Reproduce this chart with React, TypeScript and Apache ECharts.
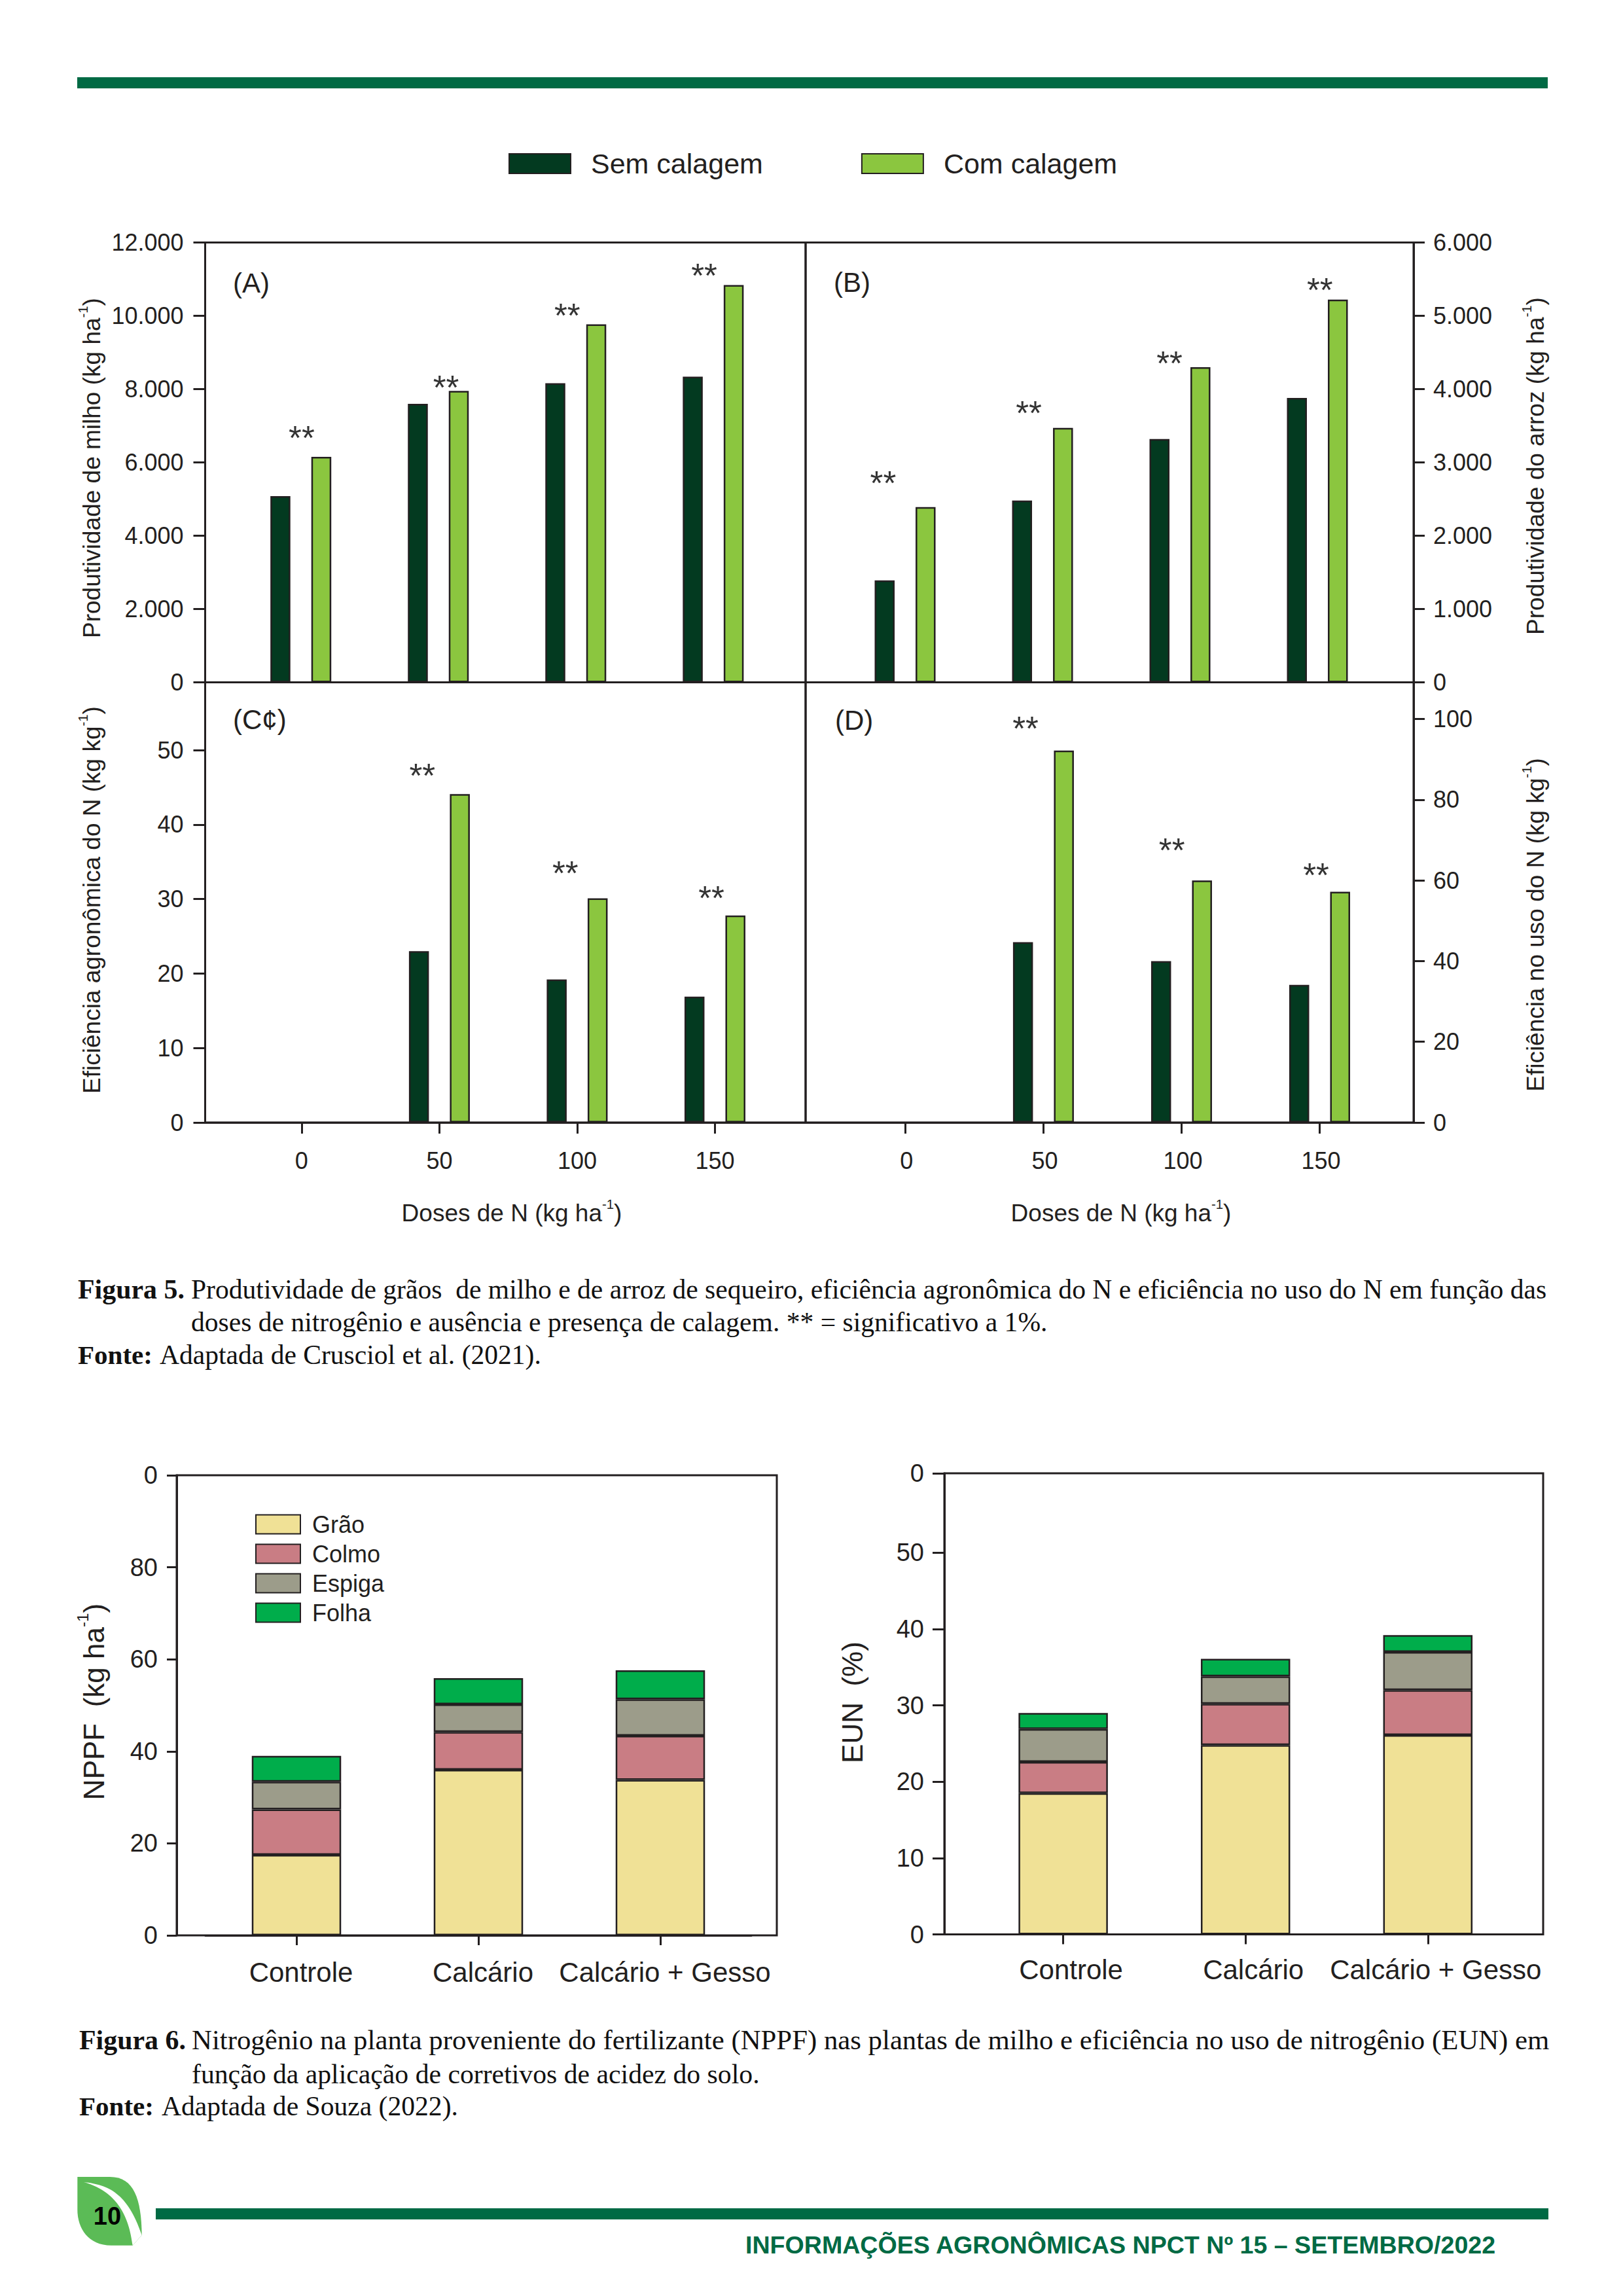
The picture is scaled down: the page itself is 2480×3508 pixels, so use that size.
import React, { useEffect, useRef } from "react";
import * as echarts from "echarts";

const doses = [0, 50, 100, 150];
const treatmentLabels = ["Controle", "Calcário", "Calcário + Gesso"];

const milhoSem = [5080, 7600, 8160, 8340];
const milhoCom = [6150, 7950, 9770, 10840];
const arrozSem = [1390, 2480, 3320, 3880];
const arrozCom = [2390, 3470, 4300, 5220];
const agroSem = [null, 23.0, 19.2, 16.9];
const agroCom = [null, 44.1, 30.1, 27.8];
const usoSem = [null, 44.7, 40.0, 34.1];
const usoCom = [null, 92.2, 60.0, 57.2];

const starsAx = [0.3, 52.8, 96.9, 146.7];
const starsAy = [6820, 8195, 10164, 11251];
const starsBx = [-8, 45, 96.2, 150.9];
const starsBy = [2795, 3754, 4431, 5431];
const starsCx = [43.8, 95.7, 148.7];
const starsCy = [47.3, 34.2, 30.9];
const starsDx = [43.5, 96.5, 148.7];
const starsDy = [99, 68.9, 62.7];

const ticksA = [0, 2000, 4000, 6000, 8000, 10000, 12000];
const ticksB = [0, 1000, 2000, 3000, 4000, 5000, 6000];
const ticksC = [0, 10, 20, 30, 40, 50];
const ticksD = [0, 20, 40, 60, 80, 100];
const ticksNppf = [0, 20, 40, 60, 80, 100];
const ticksEun = [0, 10, 20, 30, 40, 50, 60.4];

const nppfGrao = [17.5, 36.0, 33.8];
const nppfColmo = [9.9, 8.2, 9.6];
const nppfEspiga = [6.0, 6.0, 7.9];
const nppfFolha = [5.6, 5.7, 6.3];
const eunGrao = [18.5, 24.8, 26.1];
const eunColmo = [4.1, 5.4, 5.9];
const eunEspiga = [4.3, 3.6, 5.0];
const eunFolha = [2.1, 2.3, 2.2];

const INK = "#231f20";
const DARK = "#033a20";
const LIGHT = "#8bc63f";
const BRAND = "#006a44";
const SANS = "Liberation Sans";
const SERIF = "Liberation Serif";

const ctx = document.createElement("canvas").getContext("2d")!;
function fit(text: string, weight: string, family: string, width: number) {
  ctx.font = `${weight} 100px "${family}"`;
  return (100 * width) / ctx.measureText(text).width;
}

function pairs(xs: number[], ys: (number | null)[]) {
  return xs.map((x, i) => [x, ys[i]]).filter((p) => p[1] !== null);
}

function yAxis(grid: number, position: string, max: number, ticks: number[], fmt: (v: number) => string, o: any = {}) {
  const { size = 36, margin = 33, len = 18, offset = 0, labelPad = [0, 0, 0, 0] } = o;
  return {
    type: "value", gridIndex: grid, position, min: 0, max, offset,
    axisLine: { show: true, onZero: false, lineStyle: { color: INK, width: 3 } },
    axisTick: { show: true, length: len, customValues: ticks, lineStyle: { color: INK, width: 3 } },
    axisLabel: { show: true, customValues: ticks, formatter: fmt, margin, padding: labelPad, fontSize: size, fontFamily: SANS, color: INK },
    splitLine: { show: false },
  };
}

function xAxis(grid: number, min: number, max: number, ticks: number[] | null, fmt?: (v: number) => string, pad = 0) {
  return {
    type: "value", gridIndex: grid, min, max,
    axisLine: { show: true, onZero: false, lineStyle: { color: INK, width: 3 } },
    axisTick: ticks ? { show: true, length: 17, customValues: ticks, lineStyle: { color: INK, width: 3 } } : { show: false },
    axisLabel: ticks
      ? { show: true, customValues: ticks, formatter: fmt, margin: 40, fontSize: 36, fontFamily: SANS, color: INK, padding: [0, 0, 0, pad] }
      : { show: false },
    splitLine: { show: false },
  };
}

function categoryAxis(grid: number, margin: number, pad: number) {
  return {
    type: "category", gridIndex: grid, data: treatmentLabels,
    axisLine: { show: true, onZero: false, lineStyle: { color: INK, width: 3 } },
    axisTick: { show: true, length: 15, alignWithLabel: true, lineStyle: { color: INK, width: 3 } },
    axisLabel: { show: true, interval: 0, margin, fontSize: 42, fontFamily: SANS, color: INK, padding: [0, 0, 0, pad] },
    splitLine: { show: false },
  };
}

function bars(name: string, color: string, grid: number, data: any[]) {
  return {
    type: "bar", name, xAxisIndex: grid, yAxisIndex: grid, data,
    barWidth: 30.5, barGap: "105%",
    itemStyle: { color, borderColor: INK, borderWidth: 2.5 },
  };
}

function stackBar(name: string, color: string, grid: number, values: number[]) {
  return {
    type: "bar", name, xAxisIndex: grid, yAxisIndex: grid, stack: "s" + grid,
    data: values, barWidth: 136.5,
    itemStyle: { color, borderColor: INK, borderWidth: 2.5 },
  };
}

function stars(grid: number, xs: number[], ys: number[]) {
  return {
    type: "scatter", name: "sig", xAxisIndex: grid, yAxisIndex: grid, data: pairs(xs, ys),
    symbolSize: 1, itemStyle: { color: "transparent" }, z: 5,
    label: { show: true, position: "inside", formatter: "**", fontSize: 51, fontFamily: SANS, color: "#000", offset: [0, 9] },
  };
}

function supTitle(x: number, y: number, main: string, sup: string, size: number, rotated: boolean) {
  return {
    type: "text", x, y, rotation: rotated ? Math.PI / 2 : 0, z: 10,
    style: {
      text: `{a|${main}}{s|${sup}}{a|)}`, align: "center", verticalAlign: "middle",
      rich: {
        a: { fontSize: size, fontFamily: SANS, fill: INK, color: INK, verticalAlign: "bottom", lineHeight: size * 1.15 },
        s: { fontSize: size * 0.55, fontFamily: SANS, fill: INK, color: INK, verticalAlign: "top", lineHeight: size * 1.15 },
      },
    },
  };
}

function label(text: string, x: number, y: number, size: number) {
  return {
    type: "text", x, y, z: 10,
    style: { text, fontSize: size, fontFamily: SANS, fill: INK, align: "left", verticalAlign: "middle" },
  };
}

function caption(text: string, x: number, baseline: number, width: number, bold = false) {
  const weight = bold ? "bold" : "normal";
  const size = fit(text, weight, SERIF, width);
  return {
    type: "text", x, y: baseline - size * 0.27, z: 10,
    style: { text, fontSize: size, fontFamily: SERIF, fontWeight: weight, fill: "#111", align: "left", verticalAlign: "middle" },
  };
}

echarts.graphic.registerShape("leafBody", echarts.graphic.extendPath("M118.3 3326 L168 3326 C205 3326 216 3360 216.7 3415 L202.7 3430.7 L170 3430.7 C135 3430.7 118.3 3405 118.3 3376 Z", {}));
echarts.graphic.registerShape("leafStripe", echarts.graphic.extendPath("M128 3334 C165 3338 195 3350 216.7 3415 L202.7 3430.7 C198 3395 185 3350 128 3334 Z", {}));

const FOOTER = "INFORMAÇÕES AGRONÔMICAS NPCT Nº 15 – SETEMBRO/2022";

export default function App() {
  const ref = useRef<HTMLDivElement>(null);
  useEffect(() => {
    const chart = echarts.init(ref.current!, undefined, { renderer: "svg" });
    const thousand = (v: number) => (v === 0 ? "0" : (v / 1000).toFixed(3));
    const plain = (v: number) => String(v);
    const wrapTop = (v: number) => (v > 60 ? "0" : String(v));
    const frame = { show: true, borderColor: INK, borderWidth: 3, backgroundColor: "transparent", containLabel: false };
    const boxStyle = { fill: "none", stroke: INK, lineWidth: 3 };

    chart.setOption({
      animation: false,
      backgroundColor: "#fff",
      grid: [
        { ...frame, left: 313.5, top: 370.5, width: 917.5, height: 672 },
        { ...frame, left: 1231, top: 370.5, width: 929, height: 672 },
        { ...frame, left: 313.5, top: 1042.5, width: 917.5, height: 672.5 },
        { ...frame, left: 1231, top: 1042.5, width: 929, height: 672.5 },
        { show: false, left: 314, top: 2254, width: 834, height: 703 },
        { show: false, left: 1485.3, top: 2251, width: 835.8, height: 704.5 },
      ],
      xAxis: [
        xAxis(0, -34.8, 183.6, null),
        xAxis(1, -36.2, 185, null),
        xAxis(2, -35, 182.9, doses, plain),
        xAxis(3, -36.1, 184, doses, plain, 4),
        categoryAxis(4, 35, 14),
        categoryAxis(5, 33, 24),
      ],
      yAxis: [
        yAxis(0, "left", 12000, ticksA, thousand, { labelPad: [12, 0, 0, 0] }),
        yAxis(1, "right", 6000, ticksB, thousand, { margin: 30, len: 17, labelPad: [12, 0, 0, 0] }),
        yAxis(2, "left", 59.1, ticksC, plain),
        yAxis(3, "right", 109.1, ticksD, plain, { margin: 30, len: 17 }),
        yAxis(4, "left", 100, ticksNppf, (v: number) => (v === 100 ? "0" : String(v)), { size: 38, margin: 29, len: 15, offset: 44 }),
        yAxis(5, "left", 60.4, ticksEun, wrapTop, { size: 38, margin: 31, offset: 42.3 }),
      ],
      legend: [
        {
          data: ["Sem calagem", "Com calagem"], left: 777, top: 228.5, padding: 0, icon: "rect",
          itemWidth: 94, itemHeight: 30, itemGap: 150, selectedMode: false,
          textStyle: { fontSize: 43, fontFamily: SANS, color: INK, padding: [0, 0, 0, 26] },
        },
        {
          data: ["Grão", "Colmo", "Espiga", "Folha"], left: 390, top: 2311, padding: 0, orient: "vertical", icon: "rect",
          itemWidth: 68, itemHeight: 29, itemGap: 9, selectedMode: false,
          textStyle: { fontSize: 36, fontFamily: SANS, color: INK, padding: [0, 0, 0, 13] },
        },
      ],
      series: [
        bars("Sem calagem", DARK, 0, pairs(doses, milhoSem)),
        bars("Com calagem", LIGHT, 0, pairs(doses, milhoCom)),
        bars("Sem calagem", DARK, 1, pairs(doses, arrozSem)),
        bars("Com calagem", LIGHT, 1, pairs(doses, arrozCom)),
        bars("Sem calagem", DARK, 2, pairs(doses, agroSem)),
        bars("Com calagem", LIGHT, 2, pairs(doses, agroCom)),
        bars("Sem calagem", DARK, 3, pairs(doses, usoSem)),
        bars("Com calagem", LIGHT, 3, pairs(doses, usoCom)),
        stars(0, starsAx, starsAy),
        stars(1, starsBx, starsBy),
        stars(2, starsCx, starsCy),
        stars(3, starsDx, starsDy),
        stackBar("Grão", "#f0e196", 4, nppfGrao),
        stackBar("Colmo", "#c97d84", 4, nppfColmo),
        stackBar("Espiga", "#9c9c8a", 4, nppfEspiga),
        stackBar("Folha", "#00ad4b", 4, nppfFolha),
        stackBar("Grão", "#f0e196", 5, eunGrao),
        stackBar("Colmo", "#c97d84", 5, eunColmo),
        stackBar("Espiga", "#9c9c8a", 5, eunEspiga),
        stackBar("Folha", "#00ad4b", 5, eunFolha),
      ],
      graphic: {
        elements: [
          { type: "rect", shape: { x: 118, y: 118, width: 2247, height: 17 }, style: { fill: BRAND } },
          { type: "rect", shape: { x: 238, y: 3374, width: 2128, height: 17 }, style: { fill: BRAND } },
          { type: "rect", shape: { x: 270, y: 2254, width: 917, height: 703 }, style: boxStyle },
          { type: "rect", shape: { x: 1443, y: 2251, width: 915, height: 704.5 }, style: boxStyle },
          { type: "leafBody", x: 0, y: 0, style: { fill: "#5bbb56" } },
          { type: "leafStripe", x: 0, y: 0, style: { fill: "#fff" } },
          { type: "text", x: 164, y: 3386, z: 10, style: { text: "10", fontSize: 38, fontWeight: "bold", fontFamily: SANS, fill: "#000", align: "center", verticalAlign: "middle" } },
          { type: "text", x: 1139, y: 3430, z: 10, style: { text: FOOTER, fontSize: fit(FOOTER, "bold", SANS, 1148), fontWeight: "bold", fontFamily: SANS, fill: BRAND, align: "left", verticalAlign: "middle" } },

          label("(A)", 356, 432, 42),
          label("(B)", 1274, 431, 42),
          label("(C¢)", 356, 1099, 42),
          label("(D)", 1276, 1100, 42),

          supTitle(138, 715, "Produtividade de milho (kg ha", "-1", 37, true),
          supTitle(2344, 712, "Produtividade do arroz (kg ha", "-1", 37, true),
          supTitle(138, 1375, "Eficiência agronômica do N (kg kg", "-1", 37, true),
          supTitle(2344, 1413, "Eficiência no uso do N (kg kg", "-1", 37, true),
          supTitle(782, 1851, "Doses de N (kg ha", "-1", 37, false),
          supTitle(1713, 1851, "Doses de N (kg ha", "-1", 37, false),
          supTitle(140, 2600, "NPPF  (kg ha", "-1", 44, true),
          { type: "text", x: 1302, y: 2601, rotation: Math.PI / 2, z: 10, style: { text: "EUN  (%)", fontSize: 44, fontFamily: SANS, fill: INK, align: "center", verticalAlign: "middle" } },

          caption("Figura 5.", 119, 1981, 163, true),
          caption("Produtividade de grãos  de milho e de arroz de sequeiro, eficiência agronômica do N e eficiência no uso do N em função das", 292, 1981, 2072),
          caption("doses de nitrogênio e ausência e presença de calagem. ** = significativo a 1%.", 292, 2031, 1309),
          caption("Fonte:", 119, 2081, 114, true),
          caption("Adaptada de Crusciol et al. (2021).", 244, 2081, 583),
          caption("Figura 6.", 121, 3128, 163, true),
          caption("Nitrogênio na planta proveniente do fertilizante (NPPF) nas plantas de milho e eficiência no uso de nitrogênio (EUN) em", 293, 3128, 2075),
          caption("função da aplicação de corretivos de acidez do solo.", 293, 3180, 868),
          caption("Fonte:", 121, 3229, 114, true),
          caption("Adaptada de Souza (2022).", 247, 3229, 453),
        ],
      },
    });
    return () => chart.dispose();
  }, []);
  return <div ref={ref} style={{ position: "absolute", left: 0, top: 0, width: 2480, height: 3508 }} />;
}
